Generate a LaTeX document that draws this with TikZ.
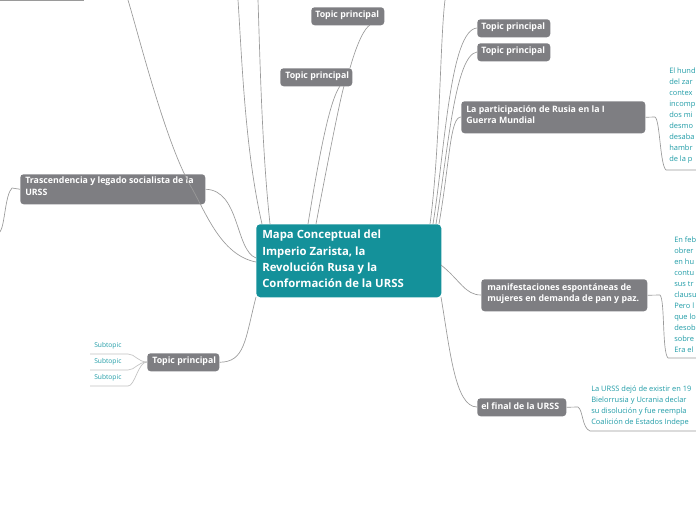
\documentclass[tikz,border=0pt]{standalone}
\usepackage{fontspec}
\setmainfont{Open Sans}
\definecolor{tp}{HTML}{7E7E82}
\definecolor{teal}{HTML}{14919A}
\definecolor{tx}{HTML}{1E9BA6}
\definecolor{ln}{HTML}{9A9A9A}
\begin{document}
\begin{tikzpicture}[x=0.75pt,y=-0.75pt,
 topic/.style={fill=tp,rounded corners=2.5pt,text=white,font=\bfseries\fontsize{6.6}{8.5}\selectfont,anchor=north west,inner sep=0pt,align=left},
 note/.style={text=tx,font=\fontsize{5.6}{8.2}\selectfont,anchor=north west,align=left,inner sep=0pt},
 con/.style={draw=ln,line width=0.5pt}]
\useasboundingbox (0,0) rectangle (696,520);
\clip (0,0) rectangle (696,520);
% central
\node[fill=teal,rounded corners=3pt,minimum width=138.75pt,minimum height=54.75pt,anchor=north west,inner sep=0pt] (c) at (256,224) {};
\node[text=white,font=\bfseries\fontsize{8.5}{12.2}\selectfont,anchor=north west,align=left,inner sep=0pt] (ct) at (262,230) {Mapa Conceptual del\\Imperio Zarista, la\\Revolución Rusa y la\\Conformación de la URSS};
% topics
\node[topic,minimum width=54.75pt,minimum height=13.5pt] (t1) at (311,7) {}; \node[topic,fill=none] at (315,11) {Topic principal};
\node[topic,minimum width=54pt,minimum height=13.5pt] (t2) at (280,68) {}; \node[topic,fill=none] at (285,72) {Topic principal};
\node[topic,minimum width=54.75pt,minimum height=13.5pt] (t3) at (477,19) {}; \node[topic,fill=none] at (481,23) {Topic principal};
\node[topic,minimum width=54.75pt,minimum height=13.5pt] (t4) at (477,43) {}; \node[topic,fill=none] at (481,47) {Topic principal};
\node[topic,minimum width=138pt,minimum height=24pt] (t5) at (461,101) {}; \node[topic,fill=none] at (466,105) {La participación de Rusia en la I\\Guerra Mundial};
\node[topic,minimum width=124.5pt,minimum height=24pt] (t6) at (481,279) {}; \node[topic,fill=none] at (487,283) {manifestaciones espontáneas de\\mujeres en demanda de pan y paz.};
\node[topic,minimum width=66.75pt,minimum height=13.5pt] (t7) at (477,398) {}; \node[topic,fill=none] at (481,402) {el final de la URSS};
\node[topic,minimum width=138.75pt,minimum height=22.5pt] (t8) at (20,174) {}; \node[topic,fill=none] at (25,177) {Trascendencia y legado socialista de la\\URSS};
\node[topic,minimum width=54pt,minimum height=13.5pt] (t9) at (147,353) {}; \node[topic,fill=none] at (152,357) {Topic principal};
% notes
\node[note] (n1) at (669,68) {El hund\\del zar\\contex\\incomp\\dos mi\\desmo\\desaba\\hambr\\de la p};
\node[note] (n2) at (674,237) {En feb\\obrer\\en hu\\contu\\sus tr\\clausu\\Pero l\\que lo\\desob\\sobre\\Era el};
\node[note] (n3) at (591,386) {La URSS dejó de existir en 19\\Bielorrusia y Ucrania declar\\su disolución y fue reempla\\Coalición de Estados Indepe};
\foreach \y in {346,362,378} \node[note,font=\fontsize{5}{6}\selectfont] at (94,\y-4) {Subtopic};
% connectors
\draw[con] (256,262) .. controls (220,255) and (205,210) .. (190,185) .. controls (165,140) and (140,40) .. (128,0);
\draw[con] (t8.east) .. controls (240,190) and (235,250) .. (256,258);
\draw[con] (262,224) .. controls (245,150) and (242,60) .. (238,0);
\draw[con] (270,224) .. controls (262,150) and (260,60) .. (258,0);
\draw[con] (308,224) .. controls (320,150) and (330,100) .. (340,86);
\draw[con] (316,224) .. controls (330,150) and (340,100) .. (344,86);
\draw[con] (350,68) .. controls (358,40) and (365,28) .. (370,25);
\draw[con] (430,224) .. controls (440,150) and (440,40) .. (445,0);
\draw[con] (433,224) .. controls (445,150) and (450,30) .. (477,28);
\draw[con] (436,224) .. controls (448,150) and (455,55) .. (477,52);
\draw[con] (439,224) .. controls (450,160) and (450,117) .. (461,117);
\draw[con] (441,265) .. controls (460,280) and (465,295) .. (481,295);
\draw[con] (441,297) .. controls (450,350) and (455,407) .. (477,407);
\draw[con] (256,297) .. controls (245,340) and (245,362) .. (t9.east);
\draw[con] (t5.east) -- (655,117) .. controls (660,120) and (660,165) .. (666,170) -- (696,170);
\draw[con] (t6.east) -- (660,295) .. controls (665,300) and (662,352) .. (668,358) -- (696,358);
\draw[con] (t7.east) -- (578,407) .. controls (583,410) and (582,428) .. (590,431) -- (696,431);
\draw[con] (t8.west) -- (12,188) .. controls (5,195) and (5,225) .. (0,232);
\draw[con] (0,0) -- (83,0) -- (83,-2);
\foreach \y in {354,370,386} \draw[con,draw=ln!60] (147,362) .. controls (138,362) and (135,\y) .. (128,\y) -- (90,\y);
\end{tikzpicture}
\end{document}
